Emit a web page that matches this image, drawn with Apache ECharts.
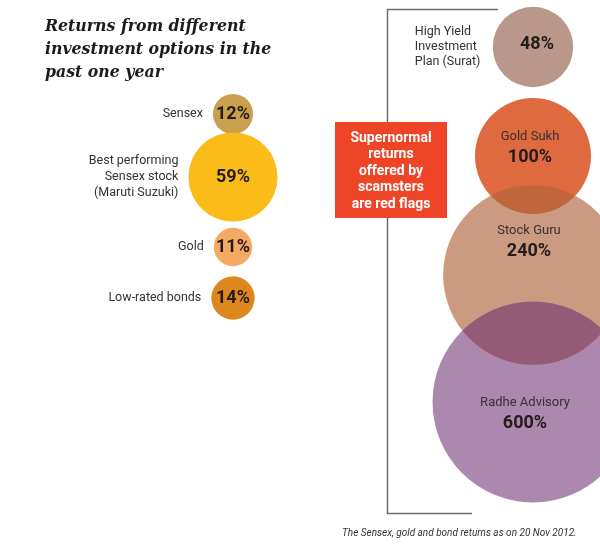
<!DOCTYPE html>
<html><head><meta charset="utf-8">
<script src="https://cdn.jsdelivr.net/npm/echarts@6/dist/echarts.min.js"></script>
<style>html,body{margin:0;padding:0;background:#fff}#c{width:600px;height:544px}</style>
</head><body><div id="c"></div>
<script>
// ---------- DATA ----------
const mainNames = ['Sensex', 'Best performing\nSensex stock\n(Maruti Suzuki)', 'Gold', 'Low-rated bonds'];
const mainReturns = [12, 59, 11, 14];
const scamNames = ['High Yield\nInvestment\nPlan (Surat)', 'Gold Sukh', 'Stock Guru', 'Radhe Advisory'];
const scamReturns = [48, 100, 240, 600];
const titleText = 'Returns from different\ninvestment options in the\npast one year';
const calloutText = 'Supernormal\nreturns\noffered by\nscamsters\nare red flags';
const noteText = 'The Sensex, gold and bond returns as on 20 Nov 2012.';

// ---------- LAYOUT / STYLE ----------
const colX = [233, 533];
const mainRowY = [114, 177, 247, 298];
const scamRowY = [47, 156, 275, 402];
const scamLabelOffset = [[4, -3], [-3, -8], [-4, -33], [-8, 12]];
const mainColors = ['#C9A04E', '#FBBC19', '#F5AA64', '#DE871E'];
const scamColors = ['#B9978A', '#E06A40', '#AF643C', '#69266B'];
const scamOpacity = [1, 1, 0.65, 0.55];
const sizeScale = v => 2 * 5.8 * Math.sqrt(Math.min(v, 300));
const SANS = 'Roboto';
const DARK = '#231c1a';

const mainData = mainReturns.map((v, i) => ({
  name: mainNames[i],
  value: [colX[0], mainRowY[i], v],
  itemStyle: { color: mainColors[i], opacity: 1 }
}));
const scamData = scamReturns.map((v, i) => ({
  name: scamNames[i],
  value: [colX[1], scamRowY[i], v],
  itemStyle: { color: scamColors[i], opacity: scamOpacity[i] },
  label: { offset: scamLabelOffset[i] }
}));

const chart = echarts.init(document.getElementById('c'), null, { renderer: 'canvas' });
chart.setOption({
  animation: false,
  backgroundColor: '#fff',
  title: {
    text: titleText, left: 40, top: 10,
    textStyle: { fontFamily: 'DejaVu Serif Condensed', fontStyle: 'italic', fontWeight: 'bold', fontSize: 17.5, lineHeight: 23, color: '#1e1a1a' }
  },
  grid: { left: 0, right: 0, top: 0, bottom: 0 },
  xAxis: { type: 'value', min: 0, max: 600, show: false },
  yAxis: { type: 'value', min: 0, max: 544, inverse: true, show: false },
  graphic: [
    { type: 'polyline', silent: true, z: 1,
      shape: { points: [[498, 9.5], [387.5, 9.5], [387.5, 513.5], [472, 513.5]] },
      style: { stroke: '#6b6b6b', lineWidth: 1.5, fill: null } },
    { type: 'rect', silent: true, z: 5, shape: { x: 335, y: 122, width: 112, height: 96 }, style: { fill: '#EE4427' } },
    { type: 'text', silent: true, z: 6, x: 391, y: 171,
      style: { text: calloutText, fill: '#fff', font: 'bold 14px Roboto', lineHeight: 16.5, align: 'center', verticalAlign: 'middle' } },
    { type: 'text', silent: true, z: 6, x: 342, y: 533,
      style: { text: noteText, fill: '#333', font: 'italic 10px Roboto', align: 'left', verticalAlign: 'middle' } }
  ],
  series: [
    {
      type: 'scatter', silent: true, data: mainData,
      symbolSize: val => sizeScale(val[2]),
      emphasis: { disabled: true },
      label: { show: true, position: 'inside', opacity: 1, formatter: p => p.value[2] + '%',
        fontFamily: SANS, fontWeight: 'bold', fontSize: 18, color: DARK }
    },
    {
      type: 'scatter', silent: true, data: mainData.map(d => ({ name: d.name, value: d.value, itemStyle: { color: 'rgba(0,0,0,0)' } })),
      symbolSize: val => sizeScale(val[2]),
      emphasis: { disabled: true },
      label: { show: true, position: 'left', distance: 10, opacity: 1, formatter: p => p.name,
        fontFamily: SANS, fontSize: 12.5, lineHeight: 16, color: '#333', align: 'right' }
    },
    {
      type: 'scatter', silent: true, data: scamData,
      symbolSize: val => sizeScale(val[2]),
      emphasis: { disabled: true },
      label: { show: true, position: 'inside', opacity: 1,
        formatter: p => (p.dataIndex === 0 ? '' : '{n|' + p.name + '}\n') + '{v|' + p.value[2] + '%}',
        rich: {
          n: { fontFamily: SANS, fontSize: 13, lineHeight: 19, color: '#333', opacity: 1 },
          v: { fontFamily: SANS, fontSize: 18, fontWeight: 'bold', lineHeight: 22, color: DARK, opacity: 1 }
        } }
    },
    {
      type: 'scatter', silent: true,
      data: scamData.slice(0, 1).map(d => ({ name: d.name, value: d.value, itemStyle: { color: 'rgba(0,0,0,0)' } })),
      symbolSize: val => sizeScale(val[2]),
      emphasis: { disabled: true },
      label: { show: true, position: 'left', distance: 8, align: 'right', opacity: 1,
        formatter: p => p.name.split('\n').map(s => '{l|' + s + '}').join('\n'),
        rich: { l: { width: 70, align: 'left', fontFamily: SANS, fontSize: 12.5, lineHeight: 15, color: '#333' } } }
    }
  ]
});
</script>
</body></html>
